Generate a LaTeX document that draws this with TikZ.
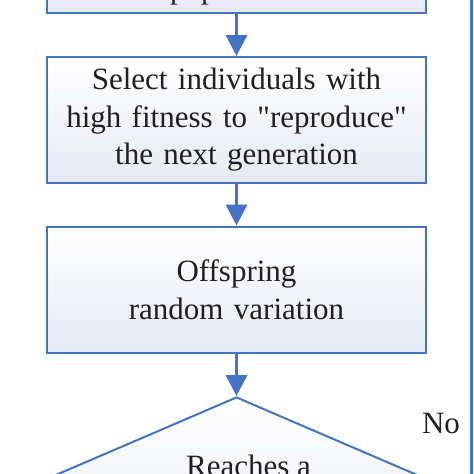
\documentclass[tikz,border=0pt]{standalone}
\usepackage{fontspec}
\setmainfont{Liberation Serif}[Ligatures=TeXOff]
\usetikzlibrary{arrows.meta,shapes.geometric}
\definecolor{lineblue}{RGB}{68,114,196}
\definecolor{fillbot}{RGB}{230,234,244}
\definecolor{txt}{RGB}{35,31,32}
\begin{document}
\begin{tikzpicture}[x=1pt,y=-1pt,
  procbox/.style={draw=lineblue, line width=2pt, top color=white, bottom color=fillbot,
    minimum width=379pt, minimum height=126pt, text width=370pt, align=center,
    inner sep=0pt, font=\fontsize{31}{37.5}\selectfont, text=txt},
  decbox/.style={diamond, draw=lineblue, line width=2pt, top color=white, bottom color=fillbot,
    minimum width=418pt, minimum height=180pt, inner sep=0pt},
  lbl/.style={font=\fontsize{31}{37.5}\selectfont, text=txt, inner sep=0pt},
  flow/.style={draw=lineblue, line width=3.4pt, -{Triangle[width=21pt,length=21pt]}}
]
\useasboundingbox (0,0) rectangle (474,474);
\clip (0,0) rectangle (474,474);

\node[procbox] (init) at (236.5,-50) {};
\node[lbl, anchor=base] (initt) at (236.5,-1.5) {population};
\node[procbox] (sel) at (236.5,120) {Select individuals with\\high fitness to "reproduce"\\the next generation};
\node[procbox] (off) at (236.5,289.5) {Offspring\\random variation};
\node[decbox] (dec) at (236.5,487) {};
\node[lbl, anchor=base] (dect) at (248.5,476) {Reaches a};
\node[lbl, anchor=base] (no) at (441,433) {No};

\coordinate (r1) at (471.5,487);
\coordinate (r2) at (471.5,-50);

\draw[flow] (init.south) -- (sel.north);
\draw[flow] (sel.south) -- (off.north);
\draw[flow] (off.south) -- (dec.north);
\draw[flow] (dec.east) -- (r1) -- (r2) -- (init.east);
\end{tikzpicture}
\end{document}
